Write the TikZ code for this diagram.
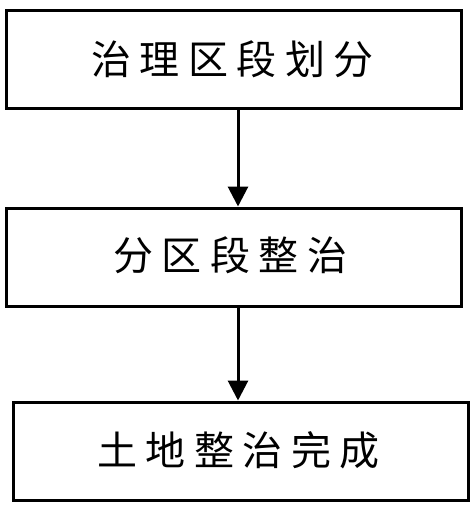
\documentclass[tikz,border=0pt]{standalone}
\usepackage{fontspec}
\newfontfamily\cjk{Noto Sans CJK SC}[Scale=1]
\usetikzlibrary{arrows.meta}
\newcommand\cg{\hspace{8.5pt}}
\begin{document}
\begin{tikzpicture}[x=1pt,y=-1pt,
  stagebox/.style={draw=black,line width=3pt,inner sep=0pt,
    font=\cjk\fontsize{40pt}{40pt}\selectfont,text=black},
  arr/.style={line width=3pt,-{Triangle[width=20pt,length=20pt]}}]
\useasboundingbox (0,0) rectangle (474,506);
\node[stagebox,minimum width=455pt,minimum height=98pt] (b1) at (233.5,59.5) {};
\node[font=\cjk\fontsize{40pt}{40pt}\selectfont] (t1) at (232.5,59) {治\cg 理\cg 区\cg 段\cg 划\cg 分};
\node[stagebox,minimum width=455pt,minimum height=98pt] (b2) at (233.5,257) {};
\node[font=\cjk\fontsize{40pt}{40pt}\selectfont] (t2) at (230,255.5) {分\cg 区\cg 段\cg 整\cg 治};
\node[stagebox,minimum width=455pt,minimum height=98pt] (b3) at (240.5,451) {};
\node[font=\cjk\fontsize{40pt}{40pt}\selectfont] (t3) at (238.5,450) {土\cg 地\cg 整\cg 治\cg 完\cg 成};
\coordinate (ax) at (238,0);
\draw[arr] (b1.south -| ax) -- (b2.north -| ax);
\draw[arr] (b2.south -| ax) -- (b3.north -| ax);
\end{tikzpicture}
\end{document}
